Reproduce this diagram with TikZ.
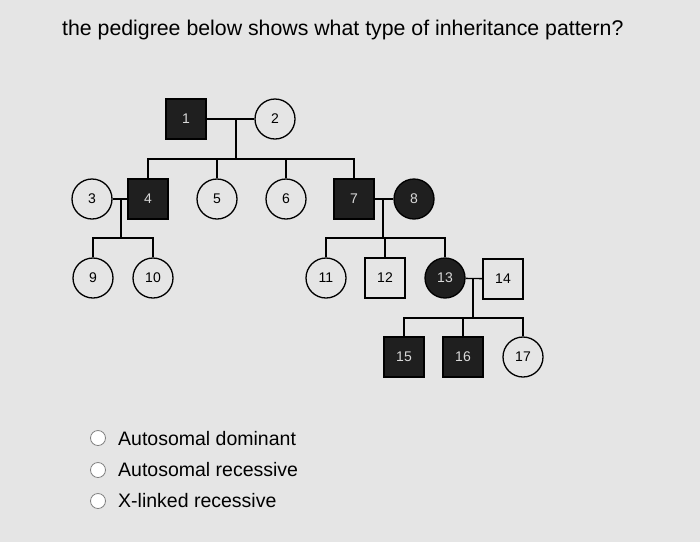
\documentclass[tikz,border=0pt]{standalone}
\usepackage{fontspec}
\setmainfont{Liberation Sans}
\begin{document}
\begin{tikzpicture}[x=1pt,y=-1pt,
  m/.style={draw,line width=1.3pt,minimum size=40pt,inner sep=0pt,font=\fontsize{14}{14}\selectfont},
  f/.style={m,circle},
  aff/.style={fill=black!88,text=white!85!black},
  ln/.style={line width=1.3pt},
  radio/.style={circle,draw=black!50,fill=white,minimum size=15pt,inner sep=0pt,line width=0.8pt},
  opt/.style={anchor=west,font=\fontsize{19.5}{19.5}\selectfont,inner sep=0pt}]
\fill[gray!20] (0,0) rectangle (700,542);
\useasboundingbox (0,0) rectangle (700,542);
\node[anchor=west,font=\fontsize{21.3}{21.3}\selectfont,inner sep=0pt] (title) at (62,30) {the pedigree below shows what type of inheritance pattern?};
% gen 1
\node[m,aff] (p1) at (186,119) {1};
\node[f] (p2) at (275,119) {2};
% gen 2
\node[f] (p3) at (92,199) {3};
\node[m,aff] (p4) at (148,199) {4};
\node[f] (p5) at (217,199) {5};
\node[f] (p6) at (286,199) {6};
\node[m,aff] (p7) at (354,199) {7};
\node[f,aff] (p8) at (414,199) {8};
% gen 3
\node[f] (p9) at (93,278) {9};
\node[f] (p10) at (153,278) {10};
\node[f] (p11) at (326,278) {11};
\node[m] (p12) at (385,278) {12};
\node[f,aff] (p13) at (445,278) {13};
\node[m] (p14) at (503,279) {14};
% gen 4
\node[m,aff] (p15) at (404,357) {15};
\node[m,aff] (p16) at (463,357) {16};
\node[f] (p17) at (523,357) {17};
% coordinates
\coordinate (d12) at (236,119);
\coordinate (s12) at (236,159);
\coordinate (d34) at (121,199);
\coordinate (s34) at (121,238);
\coordinate (d78) at (383,199);
\coordinate (s78) at (383,238);
\coordinate (d1314) at (473,279);
\coordinate (s1314) at (473,318);
% lines
\draw[ln] (p1) -- (p2);
\draw[ln] (d12) -- (s12);
\draw[ln] (p4.north) |- (s12) -| (p7.north);
\draw[ln] (p5.north) -- (p5.north |- s12);
\draw[ln] (p6.north) -- (p6.north |- s12);
\draw[ln] (p3) -- (p4);
\draw[ln] (d34) -- (s34);
\draw[ln] (p9.north) |- (s34) -| (p10.north);
\draw[ln] (p7) -- (p8);
\draw[ln] (d78) -- (s78);
\draw[ln] (p11.north) |- (s78) -| (p13.north);
\draw[ln] (p12.north) -- (p12.north |- s78);
\draw[ln] (p13) -- (p14);
\draw[ln] (d1314) -- (s1314);
\draw[ln] (p15.north) |- (s1314) -| (p17.north);
\draw[ln] (p16.north) -- (p16.north |- s1314);
% options
\node[radio] (r1) at (98,438) {};
\node[radio] (r2) at (98,470) {};
\node[radio] (r3) at (98,501) {};
\node[opt] (o1) at (118,439) {Autosomal dominant};
\node[opt] (o2) at (118,470) {Autosomal recessive};
\node[opt] (o3) at (118,501) {X-linked recessive};
\end{tikzpicture}
\end{document}
